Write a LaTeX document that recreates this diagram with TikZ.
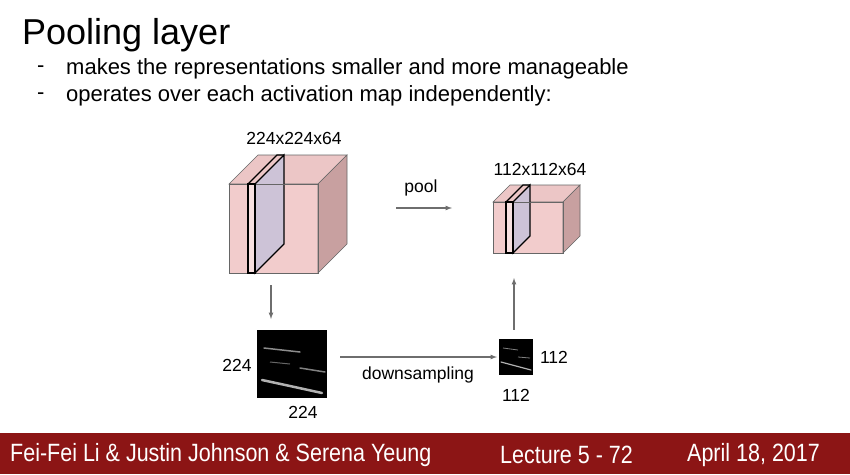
\documentclass[tikz,border=0pt]{standalone}
\usepackage{fontspec}
\setmainfont{Liberation Sans}
\definecolor{slidered}{RGB}{140,21,21}
\definecolor{cubefront}{RGB}{242,204,204}
\definecolor{cubetop}{RGB}{236,198,198}
\definecolor{cubeside}{RGB}{200,160,160}
\definecolor{slab}{RGB}{205,195,215}
\definecolor{arrowgray}{RGB}{110,110,110}
\tikzset{
  face/.style={draw=black!60, line width=0.6pt},
  slabedge/.style={draw=black, line width=1.1pt},
  flow/.style={draw=arrowgray, line width=1.2pt, -latex},
  lbl/.style={inner sep=0pt, font=\fontsize{17.5}{17.5}\selectfont},
  bullet/.style={inner sep=0pt, anchor=west, font=\fontsize{22}{22}\selectfont},
  foot/.style={inner sep=0pt, text=white, font=\fontsize{25}{25}\selectfont, anchor=west}
}
% cube: #1,#2 front top-left, #3 width, #4 height, #5 depth, #6 slab left, #7 slab width
\newcommand{\actcube}[7]{%
  \fill[cubefront] (#1,#2) rectangle ++(#3,#4);
  \filldraw[cubetop, face] (#1,#2) -- ++(#5,-#5) -- ++(#3,0) -- ++(-#5,#5) -- cycle;
  \filldraw[cubeside, face] (#1+#3,#2) -- ++(#5,-#5) -- ++(0,#4) -- ++(-#5,#5) -- cycle;
  \filldraw[slab, slabedge] (#6+#7,#2) -- ++(#5,-#5) -- ++(0,#4) -- ++(-#5,#5) -- cycle;
  \draw[slabedge] (#6,#2) -- ++(#5,-#5) -- ++(#7,0);
  \draw[face] (#1,#2) rectangle ++(#3,#4);
  \filldraw[fill=cubefront!60!white, slabedge] (#6,#2) rectangle ++(#7,#4);
}
\begin{document}
\begin{tikzpicture}[x=1pt, y=-1pt]
  \useasboundingbox (0,0) rectangle (850,474);
  % title and bullets
  \node (title) [inner sep=0pt, anchor=west, font=\fontsize{36}{36}\selectfont] at (22,35) {Pooling layer};
  \node (dashA) [bullet] at (37,69) {-};
  \node (textA) [bullet] at (66,69) {makes the representations smaller and more manageable};
  \node (dashB) [bullet] at (37,96) {-};
  \node (textB) [bullet] at (66,96) {operates over each activation map independently:};
  % cubes
  \actcube{229}{184}{89}{89}{29}{248}{7}
  \actcube{493}{202}{70}{51}{17}{506}{7}
  \node (bigsize) [lbl] at (294,138) {224x224x64};
  \node (smallsize) [lbl] at (540,169) {112x112x64};
  \coordinate (bigbottom) at (271,285);
  \coordinate (smallbottom) at (514,278);
  % activation maps
  \node (mapA) [fill=black, minimum width=70pt, minimum height=68pt, inner sep=0pt] at (292,364) {};
  \draw[white!70!black, line width=2.5pt, line cap=round] (262,380) .. controls (290,386) .. (322,393);
  \draw[white!55!black, line width=1.5pt, line cap=round] (264,348) -- (300,352);
  \draw[white!50!black, line width=1.5pt, line cap=round] (300,368) -- (325,372);
  \draw[white!40!black, line width=1pt] (270,362) -- (290,364);
  \node (mapB) [fill=black, minimum width=34pt, minimum height=36pt, inner sep=0pt] at (516,357) {};
  \draw[white!70!black, line width=1.2pt, line cap=round] (501,362) -- (531,370);
  \draw[white!50!black, line width=0.8pt] (503,348) -- (518,350);
  \draw[white!50!black, line width=0.8pt] (518,357) -- (530,358);
  \node (mapAleft) [lbl] at (237,365) {224};
  \node (mapAbelow) [lbl] at (303,412) {224};
  \node (mapBright) [lbl] at (554,357) {112};
  \node (mapBbelow) [lbl] at (516,395) {112};
  % arrows
  \coordinate (poolstart) at (396,208);
  \coordinate (poolend) at (452,208);
  \draw[flow] (poolstart) -- (poolend);
  \node (poollbl) [lbl] at (421,188) {pool};
  \draw[flow] (bigbottom) -- (271,319);
  \draw[flow] (mapA.east) ++(13,-7) coordinate (dsstart) -- (497,357) coordinate (dsend);
  \node (dslbl) [lbl] at (418,375) {downsampling};
  \draw[flow] (mapB.north) ++(-2,-9) coordinate (upstart) -- (smallbottom);
  % footer
  \fill[slidered] (0,433) rectangle (850,474);
  \node (authors) [foot, xscale=0.86] at (10,455) {Fei-Fei Li \& Justin Johnson \& Serena Yeung};
  \node (lecture) [foot, xscale=0.86] at (500,455) {Lecture 5 - 72};
  \node (date) [foot, xscale=0.86] at (687,455) {April 18, 2017};
\end{tikzpicture}
\end{document}
